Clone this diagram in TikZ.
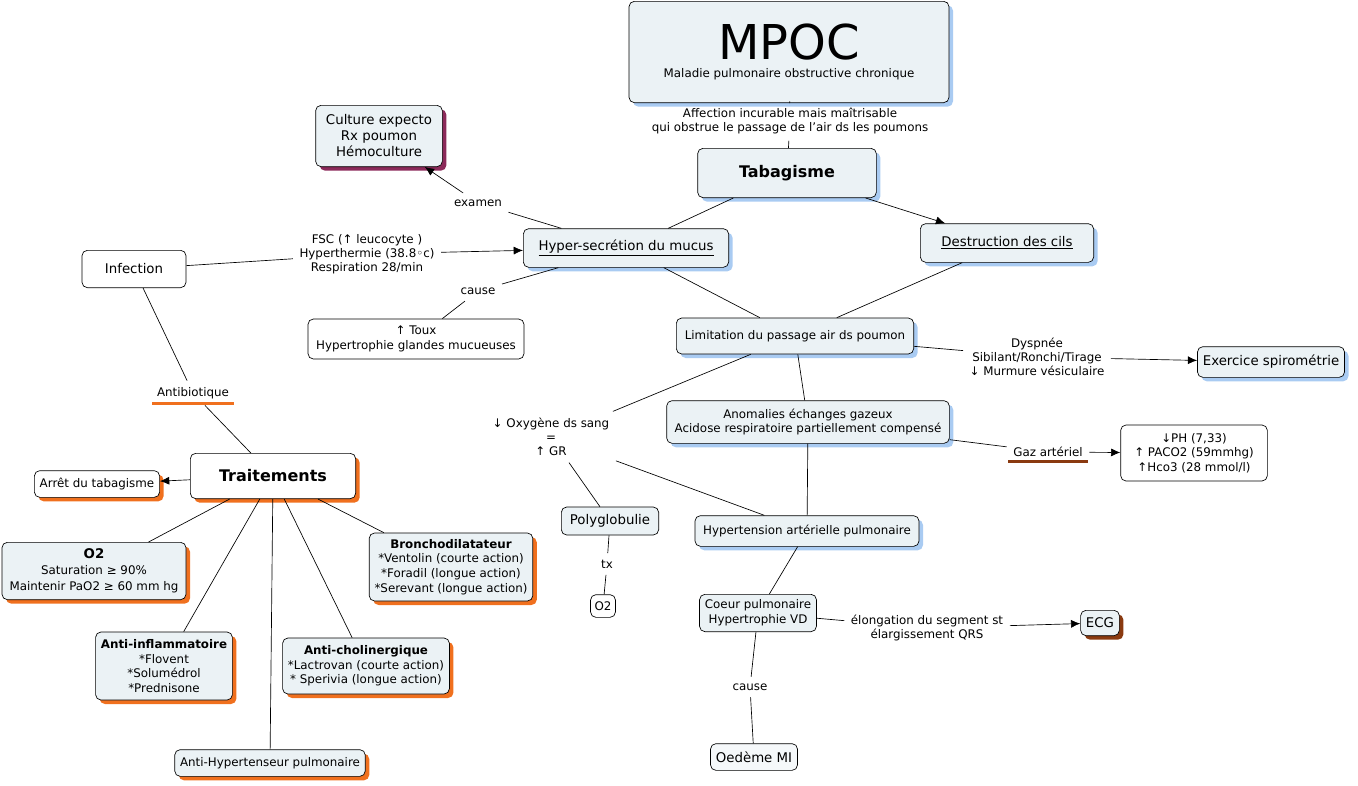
\documentclass[tikz,border=0pt]{standalone}
\usepackage{fontspec}
\setmainfont{DejaVu Sans}
\usetikzlibrary{shadows,arrows.meta}
\definecolor{cfill}{HTML}{EBF2F5}
\definecolor{sblue}{HTML}{A9CBF2}
\definecolor{sorange}{HTML}{F0701E}
\definecolor{smaroon}{HTML}{8C2A5A}
\definecolor{sbrown}{HTML}{8A3A10}
\tikzset{
  concept/.style = {shape=rectangle, rounded corners=4pt, draw, align=center,
    fill=cfill, inner sep=4pt, font=\fontsize{10}{12}\selectfont},
  small/.style = {font=\fontsize{8.9}{11}\selectfont},
  plain/.style = {concept, fill=white},
  sh/.style = {general shadow={fill=#1, shadow xshift=3pt, shadow yshift=-3pt}},
  link/.style = {align=center, inner sep=1pt, outer sep=4pt, font=\fontsize{8.9}{10.6}\selectfont},
  ulink/.style = {link, append after command={
    \pgfextra{\fill[#1] ([xshift=1pt,yshift=2.5pt]\tikzlastnode.south west) rectangle ([xshift=-1pt,yshift=0.5pt]\tikzlastnode.south east);}}},
  arr/.style = {-{Latex[length=7pt,width=6pt]}},
}
\begin{document}
\begin{tikzpicture}[x=0.75pt, y=-0.75pt, line width=0.5pt]
  \useasboundingbox (0,0) rectangle (1358,785);
  % concepts
  \node[concept, sh=sblue, minimum width=240pt, minimum height=76pt] (mpoc) at (789,52)
    {{\fontsize{36}{40}\selectfont MPOC}\\[2pt]{\fontsize{8.9}{10}\selectfont Maladie pulmonaire obstructive chronique}};
  \node[concept, sh=sblue, minimum width=134pt, minimum height=37pt, font=\bfseries\fontsize{12}{14}\selectfont] (tabac) at (787,173) {Tabagisme};
  \node[concept, sh=sblue, minimum width=154pt, minimum height=29pt] (mucus) at (626,248) {\underline{Hyper-secrétion du mucus}};
  \node[concept, sh=sblue, minimum width=130pt, minimum height=29pt] (cils) at (1007,243) {\underline{Destruction des cils}};
  \node[concept, sh=smaroon, minimum width=95pt, minimum height=46pt] (exam) at (379,136) {Culture expecto\\Rx poumon\\Hémoculture};
  \node[plain, minimum width=78pt, minimum height=28pt] (infect) at (134,269) {Infection};
  \node[plain, small, minimum width=162pt, minimum height=30pt] (toux) at (416,339) {↑ Toux\\Hypertrophie glandes mucueuses};
  \node[concept, sh=sblue, small, minimum width=178pt, minimum height=27pt] (limit) at (795,336) {Limitation du passage air ds poumon};
  \node[concept, sh=sblue, minimum height=23pt] (spiro) at (1271,362) {Exercice spirométrie};
  \node[concept, sh=sblue, small, minimum width=212pt, minimum height=32pt] (anom) at (808,422) {Anomalies échanges gazeux\\Acidose respiratoire partiellement compensé};
  \node[plain, small, minimum width=110pt, minimum height=42pt] (ph) at (1194,453) {↓PH (7,33)\\ ↑ PACO2 (59mmhg)\\↑Hco3 (28 mmol/l)};
  \node[concept, minimum width=73pt, minimum height=21pt] (poly) at (610,521) {Polyglobulie};
  \node[plain, small, inner sep=3pt, minimum height=17pt] (otwo) at (603,606) {O2};
  \node[concept, sh=sblue, small, minimum width=168pt, minimum height=23pt] (hta) at (807,531) {Hypertension artérielle pulmonaire};
  \node[concept, small, minimum height=28pt] (coeur) at (758,613) {Coeur pulmonaire\\Hypertrophie VD};
  \node[concept, sh=sbrown, minimum height=19pt] (ecg) at (1100,623) {ECG};
  \node[concept, fill=white!50!cfill, minimum height=20pt] (oedeme) at (754,757) {Oedème MI};
  \node[plain, sh=sorange, minimum width=124pt, minimum height=34pt, font=\bfseries\fontsize{12}{14}\selectfont] (trait) at (273,476) {Traitements};
  \node[plain, sh=sorange, small, minimum height=20pt] (arret) at (97,484) {Arrêt du tabagisme};
  \node[concept, sh=sorange, minimum width=138pt, minimum height=43pt] (oxy) at (94,571) {\textbf{O2}\\{\fontsize{8.9}{11}\selectfont Saturation ≥ 90\%}\\{\fontsize{8.9}{11}\selectfont Maintenir PaO2 ≥ 60 mm hg}};
  \node[concept, sh=sorange, small, minimum height=51pt] (broncho) at (451,567) {\textbf{Bronchodilatateur}\\*Ventolin (courte action)\\*Foradil (longue action)\\*Serevant (longue action)};
  \node[concept, sh=sorange, small, minimum height=51pt] (inflam) at (164,666) {\textbf{Anti-inflammatoire}\\*Flovent\\*Solumédrol\\*Prednisone};
  \node[concept, sh=sorange, small, minimum height=42pt] (choli) at (366,666) {\textbf{Anti-cholinergique}\\*Lactrovan (courte action)\\* Sperivia (longue action)};
  \node[concept, sh=sorange, small, minimum height=20pt] (antihta) at (270,763) {Anti-Hypertenseur pulmonaire};
  % linking phrases
  \node[link] (laff) at (790,121) {Affection incurable mais maîtrisable\\qui obstrue le passage de l'air ds les poumons};
  \node[link] (lexam) at (478,203) {examen};
  \node[link] (lfsc) at (367,254) {FSC (↑ leucocyte )\\Hyperthermie (38.8◦c)\\Respiration 28/min};
  \node[link] (lcause) at (478,291) {cause};
  \node[link] (ldysp) at (1037,357) {Dyspnée\\Sibilant/Ronchi/Tirage\\↓ Murmure vésiculaire};
  \node[ulink=sbrown] (lgaz) at (1048,452) {Gaz artériel};
  \node[link] (loxy) at (551,437) {↓ Oxygène ds sang\\=\\↑ GR};
  \node[link] (ltx) at (607,564) {tx};
  \node[link] (lelong) at (927,628) {élongation du segment st\\élargissement QRS};
  \node[link] (lcause2) at (750,687) {cause};
  \node[ulink=sorange] (lanti) at (193,393) {Antibiotique};
  % connectors
  \draw (mpoc) -- (laff);
  \draw (laff) -- (tabac);
  \draw (tabac) -- (mucus);
  \draw[arr] (tabac) -- (cils);
  \draw (mucus) -- (lexam);
  \draw[arr] (lexam) -- (exam);
  \draw (infect) -- (lfsc);
  \draw[arr] (lfsc) -- (mucus);
  \draw (mucus) -- (lcause);
  \draw (lcause) -- (toux);
  \draw (mucus) -- (limit);
  \draw (cils) -- (limit);
  \draw (limit) -- (ldysp);
  \draw[arr] (ldysp) -- (spiro);
  \draw (limit) -- (anom);
  \draw (limit) -- (loxy);
  \draw (loxy) -- (poly);
  \draw (loxy) -- (hta);
  \draw (anom) -- (lgaz);
  \draw[arr] (lgaz) -- (ph);
  \draw (anom) -- (hta);
  \draw (hta) -- (coeur);
  \draw (coeur) -- (lelong);
  \draw[arr] (lelong) -- (ecg);
  \draw (coeur) -- (lcause2);
  \draw (lcause2) -- (oedeme);
  \draw (poly) -- (ltx);
  \draw (ltx) -- (otwo);
  \draw (infect) -- (lanti);
  \draw (lanti) -- (trait);
  \draw[arr] (trait) -- (arret);
  \draw (trait) -- (oxy);
  \draw (trait) -- (inflam);
  \draw (trait) -- (antihta);
  \draw (trait) -- (choli);
  \draw (trait) -- (broncho);
\end{tikzpicture}
\end{document}
